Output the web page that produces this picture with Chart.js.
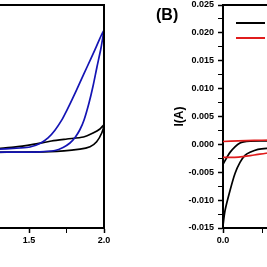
<!DOCTYPE html>
<html>
<head>
<meta charset="utf-8">
<script src="https://cdn.jsdelivr.net/npm/chart.js@4"></script>
<style>
  html, body { margin: 0; padding: 0; width: 267px; height: 267px; overflow: hidden; background: #fff; }
  canvas { position: absolute; top: 0; }
  #chartA { left: -86px; }
  #chartB { left: 153px; }
</style>
</head>
<body>
<canvas id="chartA" width="200" height="267"></canvas>
<canvas id="chartB" width="392" height="267"></canvas>
<script>
// panel A (only the right part is in the crop): potential (V) and current (A), loops
const blueE_A = [1.25, 1.573, 1.673, 1.727, 1.773, 1.807, 1.84, 1.867, 1.9, 1.927, 1.953, 1.98, 2.0,
                 1.94, 1.887, 1.84, 1.787, 1.753, 1.72, 1.673, 1.627, 1.573, 1.507, 1.44, 1.25];
const blueI_A = [-0.00142, -0.00133, -0.0011, -0.00056, 0.00025, 0.00123, 0.00267, 0.00437, 0.00742, 0.01047, 0.01388, 0.01729, 0.0205,
                 0.017, 0.01388, 0.01113, 0.00801, 0.00613, 0.00443, 0.00254, 0.00116, 0.00016, -0.00047, -0.00065, -0.00092];
const blackE_A = [1.25, 1.64, 1.84, 1.907, 1.951, 1.985, 2.0,
                  1.973, 1.927, 1.863, 1.753, 1.65, 1.527, 1.40, 1.25];
const blackI_A = [-0.00142, -0.00131, -0.00085, -0.00042, 0.00048, 0.00204, 0.0035,
                  0.00276, 0.00204, 0.00132, 0.00096, 0.0006, 0.0, -0.0005, -0.00088];

// panel B (only the left part is in the crop)
const blackE_B = [0, 0.013, 0.045, 0.077, 0.109, 0.141, 0.173, 0.224, 0.28, 0.4,
                  0.4, 0.28, 0.173, 0.109, 0.045, 0];
const blackI_B = [-0.01456, -0.01186, -0.00826, -0.00521, -0.00323, -0.00197, -0.00143, -0.00089, -0.00071, -0.0006,
                  0.0007, 0.00062, 0.00058, 0.00025, -0.00143, -0.00359];
const redE_B = [0, 0.1, 0.2, 0.3, 0.4, 0.4, 0.3, 0.2, 0.1, 0];
const redI_B = [0.00052, 0.00062, 0.0007, 0.00078, 0.00082, -0.0012, -0.0015, -0.0019, -0.00228, -0.00233];

const seriesNames = ['Sample 1', 'Sample 2'];
const yMin = -0.015, yMax = 0.025, yStep = 0.0025;

const fontFamily = '"Liberation Sans", Arial, sans-serif';
const tickFont = { family: fontFamily, size: 9, weight: 'bold' };

function toPoints(xs, ys) {
  return xs.map((x, i) => ({ x: x, y: ys[i] }));
}

function isMajor(value, step) {
  return Math.round(value / step) % 2 === 0;
}

function lineSet(label, xs, ys, color, order) {
  return {
    label: label,
    data: toPoints(xs, ys),
    borderColor: color,
    borderWidth: 1.7,
    pointRadius: 0,
    tension: 0.25,
    fill: false,
    order: order
  };
}

// top and right border of the plot box
const frame = {
  id: 'frame',
  afterDatasetsDraw(chart) {
    const { ctx, chartArea } = chart;
    ctx.save();
    ctx.strokeStyle = '#000';
    ctx.lineWidth = 2;
    ctx.beginPath();
    ctx.moveTo(chartArea.left, chartArea.top);
    ctx.lineTo(chartArea.right, chartArea.top);
    ctx.lineTo(chartArea.right, chartArea.bottom);
    ctx.stroke();
    ctx.restore();
  }
};

// legend drawn inside the plot, top left
const insideLegend = {
  id: 'insideLegend',
  afterDraw(chart) {
    const { ctx, chartArea } = chart;
    ctx.save();
    chart.data.datasets.forEach((ds, i) => {
      const y = chartArea.top + 18 + i * 15;
      ctx.strokeStyle = ds.borderColor;
      ctx.lineWidth = 2;
      ctx.beginPath();
      ctx.moveTo(chartArea.left + 13, y);
      ctx.lineTo(chartArea.left + 42, y);
      ctx.stroke();
      ctx.fillStyle = '#000';
      ctx.font = 'bold 9px ' + fontFamily;
      ctx.textBaseline = 'middle';
      ctx.fillText(ds.label, chartArea.left + 48, y);
    });
    ctx.restore();
  }
};

const panelLabel = {
  id: 'panelLabel',
  afterDraw(chart) {
    const ctx = chart.ctx;
    ctx.save();
    ctx.fillStyle = '#000';
    ctx.font = 'bold 16px ' + fontFamily;
    ctx.textBaseline = 'middle';
    ctx.textAlign = 'left';
    ctx.fillText('(B)', chart.chartArea.left - 67, 16);
    ctx.restore();
  }
};

function xScale(min, max) {
  return {
    type: 'linear',
    min: min,
    max: max,
    border: { color: '#000', width: 2 },
    grid: {
      drawOnChartArea: false,
      tickLength: 5,
      tickColor: '#000',
      tickWidth: (c) => isMajor(c.tick.value, 0.25) ? 1.5 : 1
    },
    ticks: {
      stepSize: 0.25,
      color: '#000',
      font: tickFont,
      padding: 2,
      maxRotation: 0,
      autoSkip: false,
      callback: (v) => isMajor(v, 0.25) ? v.toFixed(1) : ''
    },
    afterFit: (s) => { s.height = 39; s.paddingLeft = 0; s.paddingRight = 0; }
  };
}

function yScale(width, showLabels, title) {
  return {
    type: 'linear',
    min: yMin,
    max: yMax,
    border: { color: '#000', width: 2 },
    grid: {
      drawOnChartArea: false,
      tickLength: 5,
      tickColor: '#000',
      tickWidth: (c) => isMajor(c.tick.value, yStep) ? 1.5 : 1
    },
    ticks: {
      display: showLabels,
      stepSize: yStep,
      color: '#000',
      font: tickFont,
      padding: 4,
      autoSkip: false,
      callback: (v) => isMajor(v, yStep) ? v.toFixed(3) : ''
    },
    title: {
      display: !!title,
      text: title || '',
      color: '#000',
      font: { family: fontFamily, size: 12, weight: 'bold' },
      padding: { top: 19, bottom: 0 }
    },
    afterFit: (s) => { s.width = width; s.paddingTop = 0; s.paddingBottom = 0; }
  };
}

function baseOptions(xMin, xMax, yWidth, showY, yTitle) {
  return {
    responsive: false,
    animation: false,
    layout: { padding: { top: 5, right: 10, bottom: 0, left: 0 } },
    plugins: { legend: { display: false }, tooltip: { enabled: false } },
    scales: {
      x: xScale(xMin, xMax),
      y: yScale(yWidth, showY, yTitle)
    }
  };
}

new Chart(document.getElementById('chartA').getContext('2d'), {
  type: 'line',
  data: {
    datasets: [
      lineSet('blue', blueE_A, blueI_A, '#1414b4', 0),
      lineSet('black', blackE_A, blackI_A, '#000000', 1)
    ]
  },
  options: baseOptions(1.0, 2.0, 40, false, ''),
  plugins: [frame]
});

new Chart(document.getElementById('chartB').getContext('2d'), {
  type: 'line',
  data: {
    datasets: [
      lineSet(seriesNames[0], blackE_B, blackI_B, '#000000', 1),
      lineSet(seriesNames[1], redE_B, redI_B, '#e01c1c', 0)
    ]
  },
  options: baseOptions(0, 2.0, 70, true, 'I(A)'),
  plugins: [frame, insideLegend, panelLabel]
});
</script>
</body>
</html>
